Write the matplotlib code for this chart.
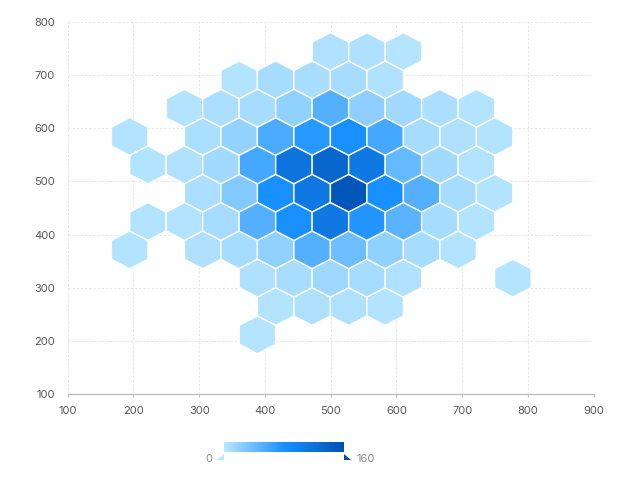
import numpy as np
import matplotlib
matplotlib.use("Agg")
import matplotlib.pyplot as plt
from matplotlib.colors import LinearSegmentedColormap, Normalize
from matplotlib.patches import Polygon

plt.rcParams['font.family'] = ['Inter', 'DejaVu Sans']

# ---- data: hex-bin centres (per row) and counts ----
row_y = [744.0, 690.8, 637.6, 584.3, 531.1, 477.9, 424.6, 371.4, 318.2, 265.0, 211.7]
row_x = [
    [499.55, 555.05, 610.55],
    [360.8, 416.3, 471.8, 527.3, 582.8],
    [277.55, 333.05, 388.55, 444.05, 499.55, 555.05, 610.55, 666.05, 721.55],
    [194.3, 305.3, 360.8, 416.3, 471.8, 527.3, 582.8, 638.3, 693.8, 749.3],
    [222.05, 277.55, 333.05, 388.55, 444.05, 499.55, 555.05, 610.55, 666.05, 721.55],
    [305.3, 360.8, 416.3, 471.8, 527.3, 582.8, 638.3, 693.8, 749.3],
    [222.05, 277.55, 333.05, 388.55, 444.05, 499.55, 555.05, 610.55, 666.05, 721.55],
    [194.3, 305.3, 360.8, 416.3, 471.8, 527.3, 582.8, 638.3, 693.8],
    [388.55, 444.05, 499.55, 555.05, 610.55, 777.05],
    [416.3, 471.8, 527.3, 582.8],
    [388.55],
]
row_counts = [
    [5, 6, 3],
    [4, 10, 9, 10, 5],
    [4, 7, 10, 20, 50, 22, 12, 8, 4],
    [4, 8, 19, 55, 72, 80, 58, 10, 6, 4],
    [4, 5, 12, 58, 115, 132, 110, 42, 12, 4],
    [7, 28, 80, 110, 152, 80, 50, 10, 4],
    [4, 4, 10, 50, 80, 110, 75, 48, 10, 4],
    [4, 6, 10, 20, 50, 38, 20, 10, 4],
    [6, 9, 14, 10, 5, 3],
    [4, 6, 5, 4],
    [3],
]
x_ticks = [100, 200, 300, 400, 500, 600, 700, 800, 900]
y_ticks = [100, 200, 300, 400, 500, 600, 700, 800]
legend_range = [0, 160]

# flatten
xs, ys, cs = [], [], []
for yv, xl, cl in zip(row_y, row_x, row_counts):
    for xv, cv in zip(xl, cl):
        xs.append(xv); ys.append(yv); cs.append(cv)
xs = np.array(xs); ys = np.array(ys); cs = np.array(cs, dtype=float)

# hex grid geometry
sx, sy = 55.5, 106.43
nx, ny = 15, 7
xmin, ymin = 83.3, 52.1
extent = (xmin, xmin + nx * sx, ymin, ymin + ny * sy)

cmap = LinearSegmentedColormap.from_list('blues', ['#BAE7FF', '#1890FF', '#0050B3'])
norm = Normalize(legend_range[0], legend_range[1])

fig = plt.figure(figsize=(6.18, 4.80), dpi=100)
ax = fig.add_axes([67.7 / 618, 1 - 394.3 / 480, 526 / 618, 372.6 / 480])

hb = ax.hexbin(xs, ys, C=cs, reduce_C_function=np.sum, gridsize=(nx, ny),
               extent=extent, cmap=cmap, norm=norm,
               edgecolors='white', linewidths=1.0, zorder=3)

ax.set_xlim(100, 900)
ax.set_ylim(100, 800)
ax.set_xticks(x_ticks)
ax.set_yticks(y_ticks)
ax.grid(True, linestyle=(0, (2, 2)), color='#E6E6E6', linewidth=0.75, zorder=0)
for s in ['top', 'right', 'left']:
    ax.spines[s].set_visible(False)
ax.spines['bottom'].set_color('#BFBFBF')
ax.spines['bottom'].set_linewidth(1.0)
ax.tick_params(axis='x', length=2.5, width=0.8, color='#BFBFBF', labelcolor='#595959',
               labelsize=8, pad=6)
ax.tick_params(axis='y', length=0, labelcolor='#595959', labelsize=8, pad=9)
ax.set_axisbelow(True)

# colour legend
cax = fig.add_axes([224 / 618, 1 - 452 / 480, 120 / 618, 10 / 480])
cb = fig.colorbar(hb, cax=cax, orientation='horizontal')
cb.outline.set_visible(False)
cax.set_xticks([])
cax.tick_params(length=0)
cax.add_patch(Polygon([(-0.058, -0.8), (0, -0.8), (0, -0.2)], closed=True,
                      transform=cax.transAxes, clip_on=False,
                      facecolor=cmap(0.0), edgecolor='none'))
cax.add_patch(Polygon([(1.0, -0.2), (1.0, -0.8), (1.058, -0.8)], closed=True,
                      transform=cax.transAxes, clip_on=False,
                      facecolor=cmap(1.0), edgecolor='none'))
cax.text(-0.1, -0.7, str(legend_range[0]), transform=cax.transAxes, ha='right',
         va='center', fontsize=8, color='#8C8C8C')
cax.text(1.1, -0.7, str(legend_range[1]), transform=cax.transAxes, ha='left',
         va='center', fontsize=8, color='#8C8C8C')

fig.savefig('out.png', dpi=100)
